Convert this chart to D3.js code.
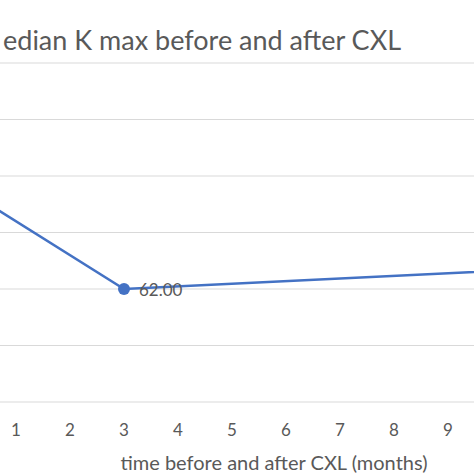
<!DOCTYPE html>
<html><head><meta charset="utf-8">
<script src="https://cdn.jsdelivr.net/npm/d3@7"></script>
<style>body{margin:0;background:#fff}svg{display:block}text{font-family:Lato,"Open Sans",sans-serif;fill:#595959}</style>
</head><body><svg width="474" height="474"></svg>
<script>
// data
var months = [0, 3, 12];
var kmax = [63.8, 62.0, 62.42];
var xTicks = [1, 2, 3, 4, 5, 6, 7, 8, 9];
var yGrid = [60, 61, 62, 63, 64, 65, 66];
var labelled = [1]; // index of point carrying a data label

var svg = d3.select('svg');

// month 3 sits at x=124, one month = 54px
var x = d3.scaleLinear().domain([3, 4]).range([124, 178]);
var y = d3.scaleLinear().domain([60, 66]).range([402, 63]);

svg.append('g').selectAll('line').data(yGrid).enter().append('line')
  .attr('x1', 0).attr('x2', 474)
  .attr('y1', function(d){ return y(d); }).attr('y2', function(d){ return y(d); })
  .attr('stroke', '#d9d9d9').attr('stroke-width', 1);

svg.append('g').selectAll('text').data(xTicks).enter().append('text')
  .attr('x', function(d){ return x(d); }).attr('y', 436)
  .attr('text-anchor', 'middle').attr('font-size', 17)
  .text(function(d){ return d; });

svg.append('text').attr('x', 3).attr('y', 50).attr('font-size', 27)
  .text('edian K max before and after CXL');

svg.append('text').attr('x', 274).attr('y', 470).attr('text-anchor', 'middle')
  .attr('font-size', 20).text('time before and after CXL (months)');

var pts = months.map(function(m, i){ return [m, kmax[i]]; });
svg.append('path').datum(pts)
  .attr('d', d3.line().x(function(d){ return x(d[0]); }).y(function(d){ return y(d[1]); }))
  .attr('fill', 'none').attr('stroke', '#4472c4').attr('stroke-width', 2.5);

labelled.forEach(function(i){
  svg.append('circle').attr('cx', x(months[i])).attr('cy', y(kmax[i])).attr('r', 6)
    .attr('fill', '#4472c4');
  svg.append('text').attr('x', x(months[i]) + 15).attr('y', y(kmax[i]) + 7)
    .attr('font-size', 17).attr('fill', '#404040').text(kmax[i].toFixed(2));
});
</script></body></html>
